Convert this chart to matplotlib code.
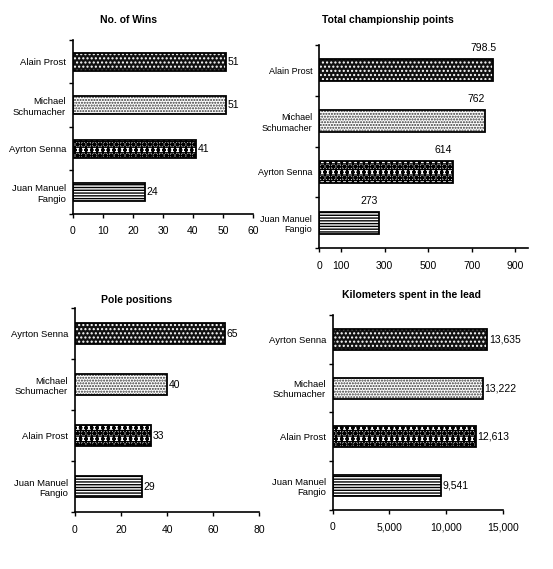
import numpy as np
import matplotlib
matplotlib.use("Agg")
import matplotlib.pyplot as plt

plt.rcParams['font.family'] = ['Liberation Sans', 'DejaVu Sans']
plt.rcParams['hatch.linewidth'] = 1.0

# data, top to bottom in every panel
wins_names = ["Alain Prost", "Michael\nSchumacher", "Ayrton Senna", "Juan Manuel\nFangio"]
wins_vals = [51, 51, 41, 24]

points_names = ["Alain Prost", "Michael\nSchumacher", "Ayrton Senna", "Juan Manuel\nFangio"]
points_vals = [798.5, 762, 614, 273]
points_labels = ["798.5", "762", "614", "273"]

poles_names = ["Ayrton Senna", "Michael\nSchumacher", "Alain Prost", "Juan Manuel\nFangio"]
poles_vals = [65, 40, 33, 29]

km_names = ["Ayrton Senna", "Michael\nSchumacher", "Alain Prost", "Juan Manuel\nFangio"]
km_vals = [13635, 13222, 12613, 9541]

# pattern by position (face, hatch, hatch colour)
styles = [("#111111", "....", "white"),
          ("white", "......", "#333333"),
          ("white", "+++ooo", "black"),
          ("white", "------", "black")]


def panel(rect, title, title_xy, names, vals, xlim, xticks, xticklabels, labels,
          height=0.42, above=False, yfont=6.8):
    ax = fig.add_axes(rect)
    y = np.arange(len(vals))
    for i in range(len(vals)):
        face, hatch, hcol = styles[i]
        ax.barh(y[i], vals[i], height, color=face, edgecolor=hcol,
                hatch=hatch, linewidth=0)
        ax.barh(y[i], vals[i], height, fill=False, edgecolor="black",
                linewidth=1.3)
        if above:
            ax.text(vals[i] - xlim * 0.045, y[i] - height / 2 - 0.12,
                    labels[i], ha="center", va="bottom", fontsize=7.5)
        else:
            ax.text(vals[i] + xlim * 0.01, y[i], labels[i],
                    ha="left", va="center", fontsize=7.5)
    ax.set_xlim(0, xlim)
    ax.set_ylim(len(vals) - 0.5, -0.5)
    ax.set_yticks(y)
    ax.set_yticklabels(names, fontsize=yfont)
    ax.set_yticks(np.arange(len(vals) + 1) - 0.5, minor=True)
    ax.tick_params(axis="y", which="major", length=0, pad=5)
    ax.tick_params(axis="y", which="minor", length=3, width=1)
    ax.set_xticks(xticks)
    ax.set_xticklabels(xticklabels, fontsize=7.5)
    ax.tick_params(axis="x", length=3, width=1, pad=6)
    for s in ["top", "right"]:
        ax.spines[s].set_visible(False)
    for s in ["left", "bottom"]:
        ax.spines[s].set_linewidth(1.2)
    fig.text(title_xy[0] / 553, 1 - title_xy[1] / 569, title, fontsize=7.5,
             fontweight="bold", ha="center", va="center")
    return ax


fig = plt.figure(figsize=(5.53, 5.69), dpi=100)

panel([0.132, 0.624, 0.3255, 0.306], "No. of Wins", (128, 20), wins_names,
      wins_vals, 60, [0, 10, 20, 30, 40, 50, 60],
      ["0", "10", "20", "30", "40", "50", "60"],
      [str(v) for v in wins_vals], height=0.41)

panel([0.577, 0.564, 0.378, 0.357], "Total championship points", (388, 20),
      points_names, points_vals, 958, [0, 100, 300, 500, 700, 900],
      ["0", "100", "300", "500", "700", "900"], points_labels,
      height=0.43, above=True, yfont=6.5)

panel([0.1356, 0.100, 0.333, 0.3585], "Pole positions", (137, 300), poles_names,
      poles_vals, 80, [0, 20, 40, 60, 80], ["0", "20", "40", "60", "80"],
      [str(v) for v in poles_vals], height=0.41)

panel([0.602, 0.1037, 0.307, 0.343], "Kilometers spent in the lead", (411, 295),
      km_names, km_vals, 15000, [0, 5000, 10000, 15000],
      ["0", "5,000", "10,000", "15,000"],
      ["{:,}".format(v) for v in km_vals], height=0.43)

fig.savefig("out.png", dpi=100)
